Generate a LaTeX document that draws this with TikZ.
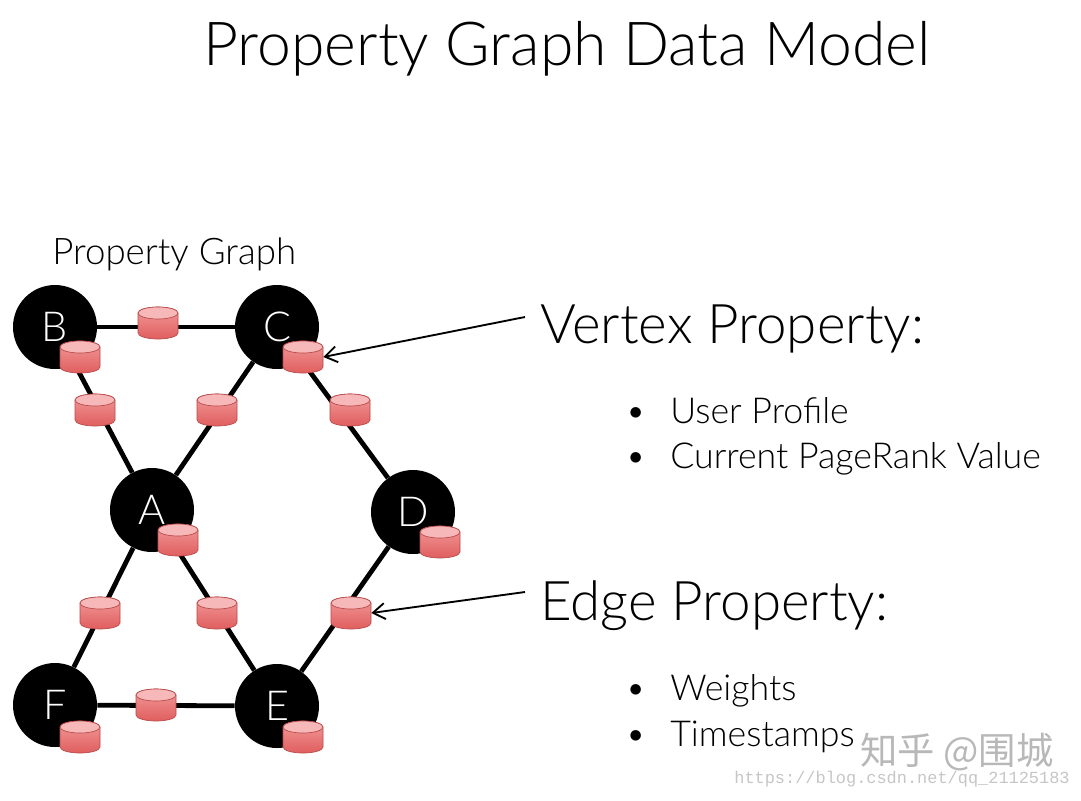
\documentclass[tikz,border=0pt]{standalone}
\usepackage{fontspec}
\setmainfont{Lato}[UprightFont=* Light]
\newfontfamily\cjkfont{Noto Sans CJK SC}
\newfontfamily\wmmono{Liberation Mono}
\usetikzlibrary{arrows.meta}
\pgfdeclarelayer{bg}
\pgfsetlayers{bg,main}
\definecolor{propT}{HTML}{F29A9A}
\definecolor{propB}{HTML}{E05E5E}
\definecolor{propTop}{HTML}{F6B8B8}
\definecolor{propD}{HTML}{B84848}
\definecolor{wm}{HTML}{B8B8B8}
\tikzset{
  vertex/.style={circle, fill=black, minimum size=63pt, inner sep=0pt, text=white, font=\fontsize{31}{31}\selectfont},
  edge/.style={line width=3.6pt, black},
  pointer/.style={line width=1.4pt, -{Straight Barb[length=9pt,width=12pt]}},
  prop/.pic={
    \path[top color=propT, bottom color=propB, draw=propD, line width=0.5pt]
      (-20,-10) -- (-20,10) arc[start angle=180,end angle=0,x radius=20,y radius=6]
      -- (20,-10) arc[start angle=0,end angle=-180,x radius=20,y radius=6] -- cycle;
    \path[fill=propTop, draw=propD, line width=0.5pt] (0,-10) ellipse [x radius=20, y radius=6];
    \node[inner sep=0pt, minimum width=30pt, minimum height=24pt] (-n) at (0,0) {};
  },
  big/.style={font=\fontsize{41}{41}\selectfont, anchor=base west, inner sep=0pt},
  mid/.style={font=\fontsize{26.8}{26.8}\selectfont, anchor=base west, inner sep=0pt},
}
\begin{document}
\begin{tikzpicture}[x=0.75pt,y=-0.75pt]
\begin{pgfonlayer}{bg}
\fill[white] (0,0) rectangle (1081,800);
\end{pgfonlayer}
\useasboundingbox (0,0) rectangle (1081,800);

\node[font=\fontsize{45.5}{45.5}\selectfont, anchor=base, inner sep=0pt] (title) at (567,65) {Property Graph Data Model};
\node[font=\fontsize{27.5}{27.5}\selectfont, anchor=base west, inner sep=0pt] (pg) at (52,264) {Property Graph};

% vertices
\node[vertex] (B) at (55,327) {B};
\node[vertex] (C) at (277,327) {C};
\node[vertex] (A) at (152,510) {A};
\node[vertex] (D) at (413,512) {D};
\node[vertex] (F) at (55,705) {F};
\node[vertex] (E) at (277,706) {E};

\begin{pgfonlayer}{bg}
\draw[edge] (B) -- (C);
\draw[edge] (B) -- (A);
\draw[edge] (C) -- (A);
\draw[edge] (C) -- (D);
\draw[edge] (A) -- (F);
\draw[edge] (A) -- (E);
\draw[edge] (D) -- (E);
\draw[edge] (F) -- (E);
\end{pgfonlayer}

% edge properties
\pic (eBC) at (158,323) {prop};
\pic (eBA) at (95,410) {prop};
\pic (eCA) at (217,410) {prop};
\pic (eCD) at (350,410) {prop};
\pic (eAF) at (100,613) {prop};
\pic (eAE) at (217,613) {prop};
\pic (eDE) at (351,613) {prop};
\pic (eFE) at (156,705) {prop};
% vertex properties
\pic (vB) at (80,357) {prop};
\pic (vC) at (303,357) {prop};
\pic (vA) at (178,540) {prop};
\pic (vD) at (440,542) {prop};
\pic (vF) at (80,737) {prop};
\pic (vE) at (303,737) {prop};

% labels
\node[big] (vp) at (540,343) {Vertex Property:};
\node[mid] (b1) at (625,423) {•};
\node[mid] (t1) at (670,423) {User Profile};
\node[mid] (b2) at (625,468) {•};
\node[mid] (t2) at (670,468) {Current PageRank Value};
\node[big] (ep) at (540,620) {Edge Property:};
\node[mid] (b3) at (625,700) {•};
\node[mid] (t3) at (670,700) {Weights};
\node[mid] (b4) at (625,746) {•};
\node[mid] (t4) at (670,746) {Timestamps};

\coordinate (av) at (525,317);
\coordinate (ae) at (525,592);
\draw[pointer] (av) -- (vC-n.east);
\draw[pointer] (ae) -- (eDE-n.east);

% watermark
\node[text=wm, font=\cjkfont\fontsize{28}{28}\selectfont, inner sep=0pt] (wm1) at (957,752) {知乎 @围城};
\node[text=wm!80!white, font=\wmmono\fontsize{12.7}{12.7}\selectfont, inner sep=0pt] (wm2) at (902,779) {https://blog.csdn.net/qq\_21125183};
\end{tikzpicture}
\end{document}
